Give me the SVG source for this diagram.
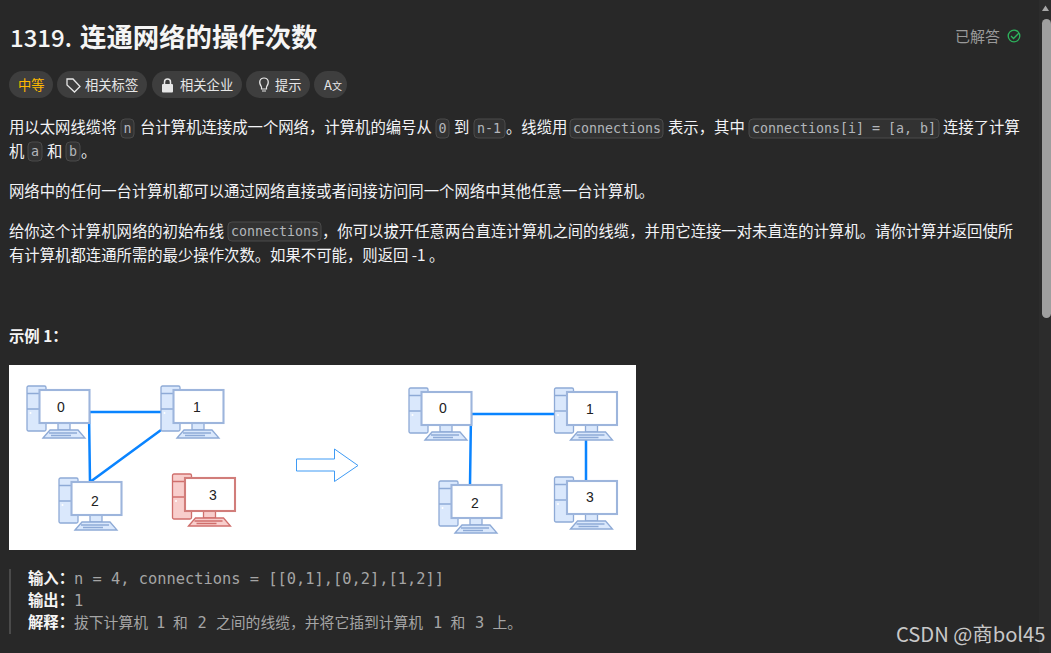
<svg xmlns="http://www.w3.org/2000/svg" xmlns:xlink="http://www.w3.org/1999/xlink" width="1051" height="653" viewBox="0 0 1051 653">
<style>
text{font-family:"Noto Sans CJK SC","Noto Sans",sans-serif;font-size:15.36px;fill:#f2f3f6}
.mono{font-family:"DejaVu Sans Mono","Liberation Mono",monospace;font-size:13.3px;fill:#b3b6bb}
.code{fill:#323232;stroke:#4a4a4a;stroke-width:1}
.chip{fill:#3e3e3e}
.chipt{font-size:13.3px;fill:#e6e6e6}
.b{font-weight:700;fill:#f5f5f5}
.ex{font-size:14.8px;fill:#a5a5a5}
.exm{font-family:"DejaVu Sans Mono","Liberation Mono",monospace;font-size:15.36px;fill:#a5a5a5}
.n{font-family:"Liberation Sans",Arial,sans-serif;font-size:14px;fill:#222;text-anchor:middle}
.wire{stroke:#0a84ff;stroke-width:2.5;fill:none}
.bs{fill:#dae8fc;stroke:#8eaad6;stroke-width:1.3}
.bm{fill:#fff;stroke:#9db5dc;stroke-width:2.1}
.rs{fill:#f8cecc;stroke:#cf6f6c;stroke-width:1.3}
.rm{fill:#fff;stroke:#d17d7a;stroke-width:2.1}
</style>
<defs>
<g id="computer">
<rect class="bs" x="0" y="0" width="19" height="45" rx="1.5"/>
<path class="bs" d="M0 7.5H19M0 23H19"/>
<circle cx="3.5" cy="27" r="1" fill="#fff"/>
<rect class="bs" x="31" y="37" width="12" height="7"/>
<path class="bs" d="M16 52L23 44H51L58 52Z"/>
<path class="bs" d="M22 47H50M24 49.5H44"/>
<rect class="bm" x="12.5" y="4" width="50" height="33"/>
</g>
<g id="computer-red">
<rect class="rs" x="0" y="0" width="19" height="45" rx="1.5"/>
<path class="rs" d="M0 7.5H19M0 23H19"/>
<circle cx="3.500" cy="27" r="1" fill="#fff"/>
<rect class="rs" x="31" y="37" width="12" height="7"/>
<path class="rs" d="M16 52L23 44H51L58 52Z"/>
<path class="rs" d="M22 47H50M24 49.5H44"/>
<rect class="rm" x="12.5" y="4" width="50" height="33"/>
</g>
</defs>
<rect width="1051" height="653" fill="#282828"/>

<g id="scrollbar">
<rect x="1039" y="0" width="12" height="653" fill="#2c2c2c"/>
<path d="M1042 11L1045.500 5.500L1049 11Z" fill="#a8a8a8"/>
<rect x="1042" y="19" width="9" height="299" rx="4.500" fill="#9f9f9f"/>
</g>

<g id="title">
<text x="10" y="47" style="font-size:24px;font-weight:500;fill:#f5f5f5">1319.</text>
<text x="80" y="47" style="font-size:26.400px;font-weight:700;fill:#f5f5f5">连通网络的操作次数</text>
<text x="955" y="42" style="font-size:15px;fill:#9a9a9a">已解答</text>
<circle cx="1014" cy="36" r="5.800" fill="none" stroke="#2db55d" stroke-width="1.300"/>
<path d="M1011 36L1013.500 38.500L1019 33" fill="none" stroke="#2db55d" stroke-width="1.300"/>
</g>

<g id="chips">
<rect class="chip" x="9" y="71" width="44" height="27" rx="13.500"/>
<text x="18" y="90" class="chipt" style="fill:#ffb800">中等</text>
<rect class="chip" x="57" y="71" width="90" height="27" rx="13.500"/>
<path d="M67 79V85L74.500 92L80 86.500L73 79Z" fill="none" stroke="#e6e6e6" stroke-width="1.300"/>
<text x="85" y="90" class="chipt">相关标签</text>
<rect class="chip" x="152" y="71" width="90" height="27" rx="13.500"/>
<rect x="162" y="84" width="11" height="8.500" rx="1" fill="#e6e6e6"/>
<path d="M164.500 84V82A3 3 0 0 1 170.500 82V84" fill="none" stroke="#e6e6e6" stroke-width="1.500"/>
<text x="180" y="90" class="chipt">相关企业</text>
<rect class="chip" x="246" y="71" width="64" height="27" rx="13.500"/>
<path d="M262 91H266M261.500 87C258 82 260 78 264 78C268 78 270 82 266.500 87V89H261.500Z" fill="none" stroke="#e6e6e6" stroke-width="1.200"/>
<text x="275" y="90" class="chipt">提示</text>
<rect class="chip" x="314" y="71" width="33" height="27" rx="13.500"/>
<text x="324" y="90" style="font-size:13px;fill:#e6e6e6">A</text>
<text x="332" y="90" style="font-size:10px;fill:#e6e6e6">文</text>
</g>

<g id="para1">
<text x="9" y="133">用以太网线缆将</text>
<rect class="code" x="121" y="119" width="13" height="19" rx="4"/>
<text x="123.500" y="133" class="mono">n</text>
<text x="140" y="133">台计算机连接成一个网络，计算机的编号从</text>
<rect class="code" x="436" y="119" width="13" height="19" rx="4"/>
<text x="438.500" y="133" class="mono">0</text>
<text x="454" y="133">到</text>
<rect class="code" x="474" y="119" width="31" height="19" rx="4"/>
<text x="477" y="133" class="mono">n-1</text>
<text x="506" y="133">。线缆用</text>
<rect class="code" x="570" y="119" width="93" height="19" rx="4"/>
<text x="573" y="133" class="mono">connections</text>
<text x="668" y="133">表示，其中</text>
<rect class="code" x="749" y="119" width="190" height="19" rx="4"/>
<text x="752" y="133" class="mono">connections[i] = [a, b]</text>
<text x="943" y="133">连接了计算</text>
<text x="9" y="157">机</text>
<rect class="code" x="28" y="142" width="14" height="19" rx="4"/>
<text x="31" y="156" class="mono">a</text>
<text x="47" y="157">和</text>
<rect class="code" x="66" y="142" width="14" height="19" rx="4"/>
<text x="69" y="156" class="mono">b</text>
<text x="81" y="157">。</text>
</g>

<text x="9" y="197">网络中的任何一台计算机都可以通过网络直接或者间接访问同一个网络中其他任意一台计算机。</text>

<g id="para3">
<text x="9" y="237">给你这个计算机网络的初始布线</text>
<rect class="code" x="228" y="222" width="93" height="19" rx="4"/>
<text x="231" y="236" class="mono">connections</text>
<text x="322" y="237">，你可以拔开任意两台直连计算机之间的线缆，并用它连接一对未直连的计算机。请你计算并返回使所</text>
<text x="9" y="261">有计算机都连通所需的最少操作次数。如果不可能，则返回 -1 。</text>
</g>

<text x="9" y="342" class="b">示例 1：</text>

<rect id="figure" x="9" y="365" width="627" height="185" fill="#fff"/>

<g id="connectors">
<path class="wire" d="M89 412H161M89 412L90 482L161 430"/>
<path class="wire" d="M471 414H554M471 414L470 485M586 440V480"/>
</g>

<g id="left-0"><use xlink:href="#computer" x="27" y="386"/><text class="n" x="61" y="412">0</text></g>
<g id="left-1"><use xlink:href="#computer" x="161" y="386"/><text class="n" x="197" y="412">1</text></g>
<g id="left-2"><use xlink:href="#computer" x="59" y="478"/><text class="n" x="95" y="506">2</text></g>
<g id="left-3"><use xlink:href="#computer-red" x="172.500" y="474"/><text class="n" x="213" y="500">3</text></g>

<path id="arrow" d="M296.500 459H334.500V449L358 465.500L334.500 481.500V471H296.500Z" fill="#fff" stroke="#3f9bf5" stroke-width="1"/>

<g id="right-0"><use xlink:href="#computer" x="409" y="388"/><text class="n" x="443" y="413">0</text></g>
<g id="right-1"><use xlink:href="#computer" x="554.500" y="388"/><text class="n" x="590" y="414">1</text></g>
<g id="right-2"><use xlink:href="#computer" x="439" y="481"/><text class="n" x="475" y="508">2</text></g>
<g id="right-3"><use xlink:href="#computer" x="554.500" y="477"/><text class="n" x="590" y="502">3</text></g>

<g id="example">
<rect x="9" y="569" width="2" height="65" fill="#4a4a4a"/>
<text x="28" y="584" class="b">输入：</text>
<text x="74" y="584" class="exm">n = 4, connections = [[0,1],[0,2],[1,2]]</text>
<text x="28" y="606" class="b">输出：</text>
<text x="74" y="606" class="exm">1</text>
<text x="28" y="628" class="b">解释：</text>
<text x="74" y="628" class="ex">拔下计算机</text>
<text x="156" y="628" class="exm">1</text>
<text x="173" y="628" class="ex">和</text>
<text x="197.500" y="628" class="exm">2</text>
<text x="216" y="628" class="ex">之间的线缆，并将它插到计算机</text>
<text x="433" y="628" class="exm">1</text>
<text x="450.500" y="628" class="ex">和</text>
<text x="475" y="628" class="exm">3</text>
<text x="492.500" y="628" class="ex">上。</text>
</g>

<text id="watermark" x="896" y="642" style="font-size:20.200px;fill:#c8c8c8">CSDN @商bol45</text>
</svg>
